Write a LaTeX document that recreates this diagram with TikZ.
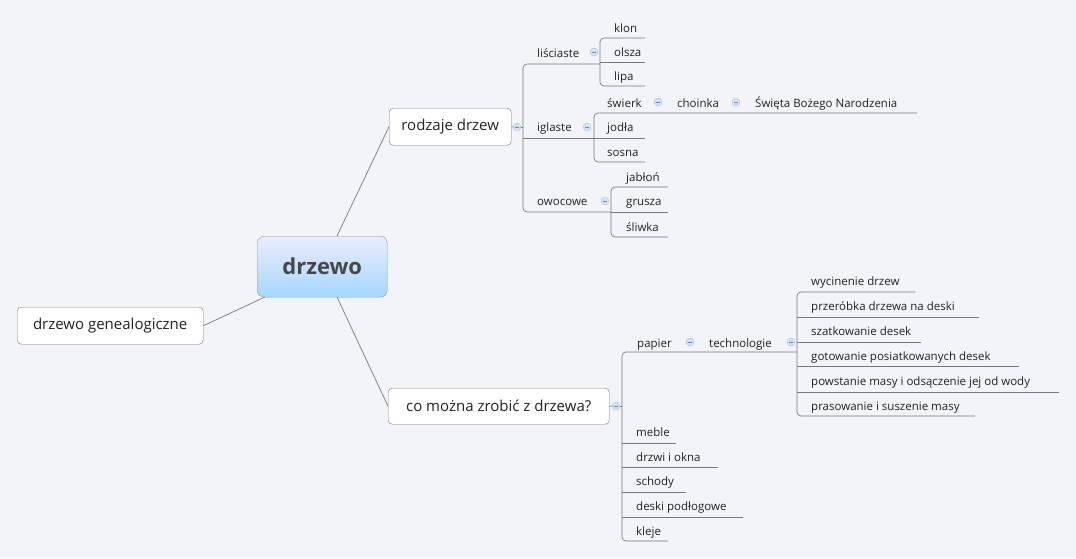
\documentclass[tikz,border=0pt]{standalone}
\usepackage{fontspec}
\setmainfont{Open Sans}
\definecolor{bg}{HTML}{F2F4F7}
\definecolor{ln}{HTML}{7A7A7A}
\definecolor{txt}{HTML}{222222}
\definecolor{icf}{HTML}{D3E2F5}
\definecolor{icd}{HTML}{A9C2E2}
\begin{document}
\begin{tikzpicture}[x=1pt,y=-1pt,
  leaf/.style={inner sep=0pt,anchor=base west,text=txt,font=\fontsize{11.5}{13}\selectfont},
  mid/.style={draw=ln,fill=white,rounded corners=4pt,text=txt,font=\fontsize{15}{18}\selectfont,inner sep=0pt,anchor=north west},
  ln/.style={draw=ln,line width=0.7pt},
  collapse/.style={circle,draw=icd,fill=icf,minimum size=8pt,inner sep=0pt,
    path picture={\draw[icd!70!black,line width=0.5pt] ([xshift=-2pt]path picture bounding box.center)--([xshift=2pt]path picture bounding box.center);}}]
\fill[bg] (0,0) rectangle (1076,558);
\useasboundingbox (0,0) rectangle (1076,558);
% central
\node[draw=ln!80,rounded corners=7pt,top color=white!30!cyan!10!blue!8,bottom color=blue!45!cyan!35,
  minimum width=130pt,minimum height=61pt,anchor=north west,font=\fontsize{22}{26}\bfseries\selectfont,text=black!75] (root) at (257,236) {};
\node[font=\fontsize{22}{26}\bfseries\selectfont,text=black!72] at (root.center) {drzewo};
\node[mid,minimum width=122pt,minimum height=37pt] (rod) at (389,108) {rodzaje drzew};
\node[mid,minimum width=186pt,minimum height=37pt] (gen) at (17,307) {drzewo genealogiczne};
\node[mid,minimum width=221pt,minimum height=36pt] (co) at (388,388) {co można zrobić z drzewa?};
\draw[ln] (337,236) -- (rod.west);
\draw[ln] (337,297) -- (co.west);
\draw[ln] (265,297) -- (gen.east);
% icons
\node[collapse] (i1) at (517,127) {};
\node[collapse] (i2) at (616,406) {};
\draw[ln] (rod.east) -- (i1.west);
\draw[ln] (i1.east) -- (523,127);
\draw[ln] (co.east) -- (i2.west);
\draw[ln] (i2.east) -- (622,406);
% rodzaje bar
\draw[ln,rounded corners=4pt] (600,64) -- (523,64) -- (523,212) -- (611,212);
\draw[ln] (523,138) -- (594,138);
\node[leaf] (lis) at (537,57) {liściaste}; \node[collapse] (c1) at (594,52) {};
\node[leaf] (igl) at (537,131) {iglaste}; \node[collapse] (c2) at (587,127) {};
\node[leaf] (owo) at (537,205) {owocowe}; \node[collapse] (c3) at (605,201) {};
% lisciaste
\draw[ln,rounded corners=4pt] (645,38) -- (600,38) -- (600,86) -- (645,86);
\draw[ln] (600,62) -- (645,62);
\node[leaf] (klon) at (614,32) {klon};
\node[leaf] (olsza) at (614,56) {olsza};
\node[leaf] (lipa) at (614,80) {lipa};
% iglaste
\draw[ln,rounded corners=4pt] (917,113) -- (594,113) -- (594,162) -- (645,162);
\draw[ln] (594,138) -- (645,138);
\node[leaf] (swierk) at (607,107) {świerk}; \node[collapse] (c4) at (658,102) {};
\node[leaf] (choinka) at (677,107) {choinka}; \node[collapse] (c5) at (736,102) {};
\node[leaf] (swieta) at (755,107) {Święta Bożego Narodzenia};
\node[leaf] (jodla) at (607,131) {jodła};
\node[leaf] (sosna) at (607,156) {sosna};
% owocowe
\draw[ln,rounded corners=4pt] (668,187) -- (611,187) -- (611,237) -- (668,237);
\draw[ln] (611,212) -- (668,212);
\node[leaf] (jablon) at (626,181) {jabłoń};
\node[leaf] (grusza) at (626,205) {grusza};
\node[leaf] (sliwka) at (626,231) {śliwka};
% co mozna
\draw[ln,rounded corners=4pt] (797,352) -- (622,352) -- (622,541) -- (668,541);
\node[leaf] (papier) at (637,347) {papier}; \node[collapse] (c6) at (690,342) {};
\node[leaf] (tech) at (709,347) {technologie}; \node[collapse] (c7) at (791,342) {};
\draw[ln] (622,443) -- (676,443);
\draw[ln] (622,467) -- (718,467);
\draw[ln] (622,492) -- (686,492);
\draw[ln] (622,517) -- (743,517);
\node[leaf] (meble) at (636,436) {meble};
\node[leaf] (drzwi) at (636,461) {drzwi i okna};
\node[leaf] (schody) at (636,485) {schody};
\node[leaf] (deski) at (636,510) {deski podłogowe};
\node[leaf] (kleje) at (636,535) {kleje};
% technologie
\draw[ln,rounded corners=4pt] (915,292) -- (797,292) -- (797,416) -- (975,416);
\draw[ln] (797,317) -- (979,317);
\draw[ln] (797,342) -- (921,342);
\draw[ln] (797,366) -- (1019,366);
\draw[ln] (797,392) -- (1059,392);
\node[leaf] (t1) at (811,285) {wycinenie drzew};
\node[leaf] (t2) at (811,310) {przeróbka drzewa na deski};
\node[leaf] (t3) at (811,335) {szatkowanie desek};
\node[leaf] (t4) at (811,360) {gotowanie posiatkowanych desek};
\node[leaf] (t5) at (811,385) {powstanie masy i odsączenie jej od wody};
\node[leaf] (t6) at (811,410) {prasowanie i suszenie masy};
\end{tikzpicture}
\end{document}
